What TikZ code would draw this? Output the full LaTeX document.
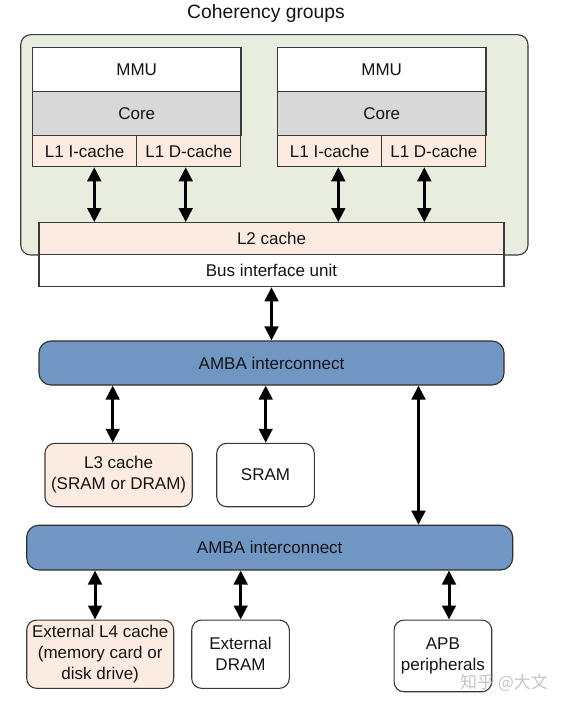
\documentclass[tikz,border=0pt]{standalone}
\usepackage{fontspec}
\setmainfont{Liberation Sans}
\newfontfamily\cjkfont{Noto Sans CJK SC}
\usetikzlibrary{arrows.meta}
\definecolor{grpfill}{HTML}{E9EDDF}
\definecolor{peach}{HTML}{FCEBE0}
\definecolor{coregray}{HTML}{D8D8D8}
\definecolor{ambablue}{HTML}{7097C4}
\definecolor{edge}{HTML}{3A3A3A}
\definecolor{txt}{HTML}{141414}
\tikzset{
  cell/.style={draw=edge, line width=1.1pt, inner sep=0pt, text=txt,
    font=\fontsize{17}{21}\selectfont},
  rbox/.style={cell, rounded corners=10pt, align=center},
  bus/.style={cell, fill=ambablue, rounded corners=12pt, draw=edge!80!black},
  dbl/.style={line width=3pt, {Triangle[length=14pt,width=13.5pt]}-{Triangle[length=14pt,width=13.5pt]}}
}
\begin{document}
\begin{tikzpicture}[x=1pt,y=-1pt]
\useasboundingbox (0,0) rectangle (562,706);

% title and coherency group background
\node[text=txt, font=\fontsize{19.3}{23}\selectfont] (title) at (266,14) {Coherency groups};
\draw[draw=edge, line width=1.1pt, fill=grpfill, rounded corners=10pt] (20.7,34.7) rectangle (528,255);

% left core
\node[cell, fill=white, minimum width=208.5, minimum height=44] (mmuL) at (136.7,69.3) {MMU};
\node[cell, fill=coregray, minimum width=208.5, minimum height=44.4] (coreL) at (136.7,113.5) {Core};
\node[cell, fill=peach, minimum width=104.25, minimum height=31] (l1iL) at (84.6,151.2) {L1 I-cache};
\node[cell, fill=peach, minimum width=104.25, minimum height=31] (l1dL) at (188.8,151.2) {L1 D-cache};

% right core
\node[cell, fill=white, minimum width=208.5, minimum height=44] (mmuR) at (381.7,69.3) {MMU};
\node[cell, fill=coregray, minimum width=208.5, minimum height=44.4] (coreR) at (381.7,113.5) {Core};
\node[cell, fill=peach, minimum width=104.25, minimum height=31] (l1iR) at (329.6,151.2) {L1 I-cache};
\node[cell, fill=peach, minimum width=104.25, minimum height=31] (l1dR) at (433.8,151.2) {L1 D-cache};

% L2 and bus interface
\node[cell, fill=peach, minimum width=465, minimum height=31.6] (l2) at (271.5,238.5) {L2 cache};
\node[cell, fill=white, minimum width=465, minimum height=32.4] (biu) at (271.5,270.5) {Bus interface unit};

% interconnects
\node[bus, minimum width=465, minimum height=44] (amba1) at (271.5,363) {AMBA interconnect};
\node[bus, minimum width=486, minimum height=44.7] (amba2) at (269.7,547.6) {AMBA interconnect};

% memories
\node[rbox, fill=peach, minimum width=147.3, minimum height=63.4] (l3) at (118.6,475) {L3 cache\\(SRAM or DRAM)};
\node[rbox, fill=white, minimum width=97.6, minimum height=63.4] (sram) at (265.5,475) {SRAM};
\node[rbox, fill=peach, minimum width=147, minimum height=68.3] (l4) at (100.2,654.2) {External L4 cache\\(memory card or\\disk drive)};
\node[rbox, fill=white, minimum width=97.6, minimum height=68.3] (dram) at (240.5,654.2) {External\\DRAM};
\node[rbox, fill=white, minimum width=97.7, minimum height=71.7] (apb) at (442.9,655.9) {APB\\peripherals};

% watermark
\node[text=gray!45, font=\cjkfont\fontsize{17}{20}\selectfont, inner sep=0pt] (wm) at (504,683) {知乎 @大文};

% connector anchor points
\path (l1iL.south) ++(9.7,0) coordinate (a1);
\path (l1dL.south) ++(-3.1,0) coordinate (a2);
\path (l1iR.south) ++(8.7,0) coordinate (a3);
\path (l1dR.south) ++(-9.5,0) coordinate (a4);
\path (biu.south) coordinate (a5);
\path (amba1.south) ++(-158.8,0) coordinate (a6);
\path (amba1.south) ++(-5.8,0) coordinate (a7);
\path (amba1.south) ++(147,0) coordinate (a8);
\path (amba2.south) ++(-174.7,0) coordinate (a9);
\path (amba2.south) ++(-29,0) coordinate (a10);
\path (amba2.south) ++(179.3,0) coordinate (a11);

\draw[dbl] (a1) -- (a1 |- l2.north);
\draw[dbl] (a2) -- (a2 |- l2.north);
\draw[dbl] (a3) -- (a3 |- l2.north);
\draw[dbl] (a4) -- (a4 |- l2.north);
\draw[dbl] (a5) -- (a5 |- amba1.north);
\draw[dbl] (a6) -- (a6 |- l3.north);
\draw[dbl] (a7) -- (a7 |- sram.north);
\draw[dbl] (a8) -- (a8 |- amba2.north);
\draw[dbl] (a9) -- (a9 |- l4.north);
\draw[dbl] (a10) -- (a10 |- dram.north);
\draw[dbl] (a11) -- (a11 |- apb.north);
\end{tikzpicture}
\end{document}
